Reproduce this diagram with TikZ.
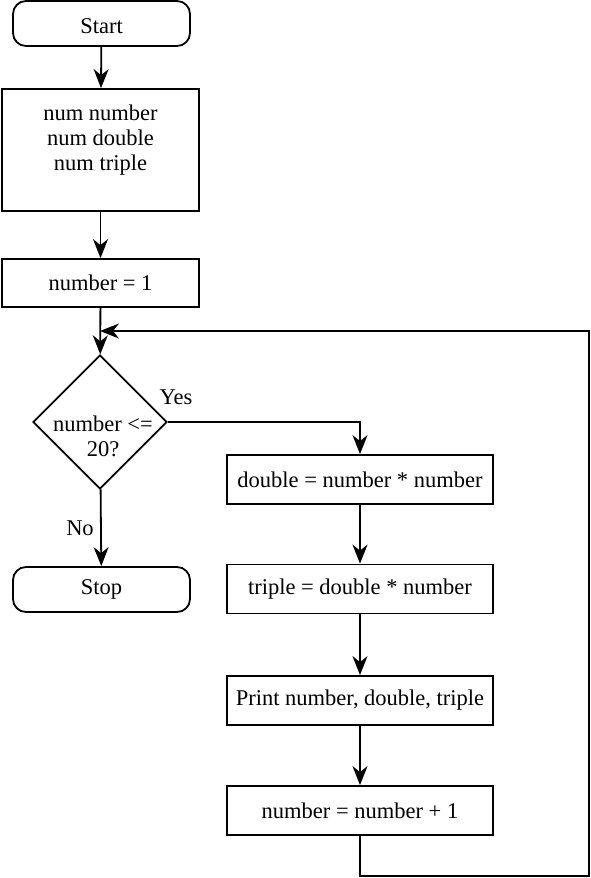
\documentclass[tikz,border=0pt]{standalone}
\usepackage{fontspec}
\setmainfont{Liberation Serif}
\usetikzlibrary{shapes.geometric,arrows.meta,calc}
\begin{document}
\begin{tikzpicture}[x=1pt,y=-1pt,
  every node/.style={font=\fontsize{22.5}{25}\selectfont},
  line/.style={line width=1.8pt,black},
  arr/.style={line, -{Stealth[length=19pt,width=15pt,inset=6pt]}},
  term/.style={draw,line width=1.8pt,rounded corners=13pt,inner sep=0pt,minimum width=177pt,minimum height=45pt},
  proc/.style={draw,line width=1.8pt,inner sep=0pt,minimum height=49pt},
  dec/.style={draw,line width=1.8pt,diamond,aspect=1,inner sep=0pt,minimum size=134pt}
]
\useasboundingbox (0,0) rectangle (590,878);
\node[term,label={[yshift=-3pt]center:Start}] (start) at (101.5,23.5) {};
\node[proc,minimum width=197pt,minimum height=122pt,
  label={[align=center,yshift=10pt]center:num number\\num double\\num triple}] (decl) at (100.5,150) {};
\node[proc,minimum width=197pt,minimum height=48pt] (init) at (100.5,283) {number = 1};
\coordinate (merge) at (100,331);
\node[dec,label={[align=center,yshift=-14pt,xshift=3pt]center:number <=\\20?}] (cond) at (100,422) {};
\node[term] (stop) at (101.5,589.5) {Stop};
\node[proc,minimum width=266pt] (dbl) at (360,479.5) {double = number * number};
\node[proc,minimum width=266pt] (trp) at (360,589) {triple = double * number};
\node[proc,minimum width=266pt] (prt) at (360,700.5) {Print number, double, triple};
\node[proc,minimum width=266pt] (inc) at (360,810.5) {number = number + 1};
\coordinate (lb) at (360,876);
\coordinate (rb) at (589,876);
\coordinate (rt) at (589,331);
\node (yes) at (176,397) {Yes};
\node (no) at (80,528) {No};
\draw[arr] (start) -- (decl);
\draw[arr] (decl) -- (init);
\draw[arr] (init) -- (cond);
\draw[arr] (cond.east) -| (dbl.north);
\draw[arr] (cond) -- (stop);
\draw[arr] (dbl) -- (trp);
\draw[arr] (trp) -- (prt);
\draw[arr] (prt) -- (inc);
\draw[arr] (inc.south) -- (lb) -- (rb) -- (rt) -- (merge);
\end{tikzpicture}
\end{document}
